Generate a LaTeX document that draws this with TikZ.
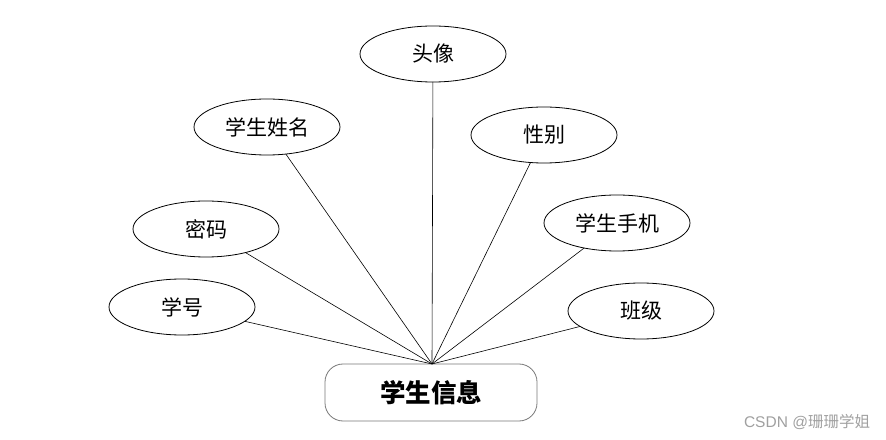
\documentclass[tikz,border=0pt]{standalone}
\usepackage{fontspec}
\usepackage{tikz}
\usetikzlibrary{shapes.geometric}
\newfontfamily\cjk{Noto Sans CJK SC}
\setsansfont{Liberation Sans}
\definecolor{pdfcolor1}{RGB}{0,0,0}
\definecolor{pdfcolor2}{RGB}{120,120,120}
\definecolor{pdfcolor3}{RGB}{160,160,160}
\tikzset{
  attr/.style={draw=pdfcolor1,ellipse,minimum width=146bp,minimum height=56bp,inner sep=0pt,line width=0.8bp,font=\cjk\fontsize{21bp}{24bp}\selectfont},
  entity/.style={draw=pdfcolor2,rounded corners=18bp,minimum width=212bp,minimum height=57bp,inner sep=0pt,line width=0.8bp,font=\cjk\bfseries\fontsize{25.5bp}{30bp}\selectfont},
  link/.style={draw=pdfcolor1,line width=0.6bp}
}

\begin{document}
\begin{tikzpicture}[x=1bp,y=-1bp,inner sep=0pt,outer sep=0pt]
  \useasboundingbox (0,0) rectangle (886,440);
  \node[attr] (touxiang) at (433,54) {头像};
  \node[attr] (xingming) at (267,127) {学生姓名};
  \node[attr] (xingbie) at (544,135) {性别};
  \node[attr] (mima) at (206,229) {密码};
  \node[attr] (shouji) at (617,223) {学生手机};
  \node[attr] (xuehao) at (182,307) {学号};
  \node[attr] (banji) at (641,311) {班级};
  \node[entity] (xinxi) at (431,392.5) {学生信息};
  \coordinate (hub) at (432,364);
  \draw[link] (touxiang) -- (hub);
  \draw[link] (xingming) -- (hub);
  \draw[link] (xingbie) -- (hub);
  \draw[link] (mima) -- (hub);
  \draw[link] (shouji) -- (hub);
  \draw[link] (xuehao) -- (hub);
  \draw[link] (banji) -- (hub);
  \node[anchor=east,text=pdfcolor3] (mark) at (870,422) {\sffamily\fontsize{15.5bp}{18bp}\selectfont CSDN @{\cjk 珊珊学姐}};
\end{tikzpicture}
\end{document}
